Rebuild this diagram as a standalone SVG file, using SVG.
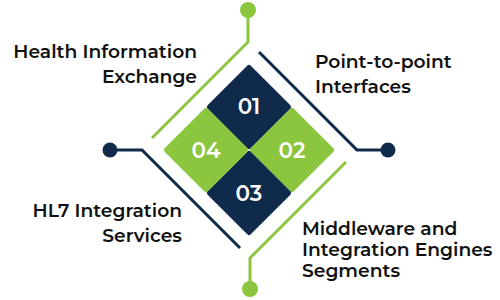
<svg xmlns="http://www.w3.org/2000/svg" width="500" height="300" viewBox="0 0 500 300">
<style>
.lbl{font-family:Montserrat,"Open Sans","Liberation Sans",sans-serif;font-weight:600;font-size:18.7px;fill:#111111}
.num{font-family:Montserrat,"Open Sans","Liberation Sans",sans-serif;font-weight:600;font-size:21.5px;fill:#ffffff;text-anchor:middle}
.navy{fill:#0f2a4b}
.green{fill:#8cc63f}
.ln{fill:none;stroke-width:3;stroke-linejoin:miter}
</style>
<rect width="500" height="300" fill="#ffffff"/>
<g id="connectors">
<path class="ln" stroke="#8cc63f" d="M152,138 L248,42 L248,12"/>
<circle cx="248" cy="10" r="8" class="green"/>
<path class="ln" stroke="#0f2a4b" d="M259,52 L357,150 L386,150"/>
<circle cx="388" cy="150" r="7.5" class="navy"/>
<path class="ln" stroke="#8cc63f" d="M346,162 L250,258 L250,286"/>
<circle cx="250" cy="289" r="8" class="green"/>
<path class="ln" stroke="#0f2a4b" d="M240,248 L142,150 L112,150"/>
<circle cx="110" cy="150" r="7.5" class="navy"/>
</g>
<g id="n01">
<rect x="-30.5" y="-30.5" width="61" height="61" rx="2.5" class="navy" transform="translate(249,107) rotate(45)"/>
<text class="num" x="249" y="114">01</text>
</g>
<g id="n02">
<rect x="-30.5" y="-30.5" width="61" height="61" rx="2.5" class="green" transform="translate(292,150) rotate(45)"/>
<text class="num" x="292" y="158">02</text>
</g>
<g id="n03">
<rect x="-30.5" y="-30.5" width="61" height="61" rx="2.5" class="navy" transform="translate(249,193) rotate(45)"/>
<text class="num" x="249" y="201">03</text>
</g>
<g id="n04">
<rect x="-30.5" y="-30.5" width="61" height="61" rx="2.5" class="green" transform="translate(206,150) rotate(45)"/>
<text class="num" x="206" y="158">04</text>
</g>
<g id="label-hie">
<text class="lbl" x="197" y="58" text-anchor="end">Health Information</text>
<text class="lbl" x="197" y="83" text-anchor="end">Exchange</text>
</g>
<g id="label-p2p">
<text class="lbl" x="315" y="68">Point-to-point</text>
<text class="lbl" x="315" y="93">Interfaces</text>
</g>
<g id="label-hl7">
<text class="lbl" x="182" y="217" text-anchor="end">HL7 Integration</text>
<text class="lbl" x="182" y="242" text-anchor="end">Services</text>
</g>
<g id="label-mw">
<text class="lbl" x="302" y="235">Middleware and</text>
<text class="lbl" x="302" y="256">Integration Engines</text>
<text class="lbl" x="302" y="277">Segments</text>
</g>
</svg>
